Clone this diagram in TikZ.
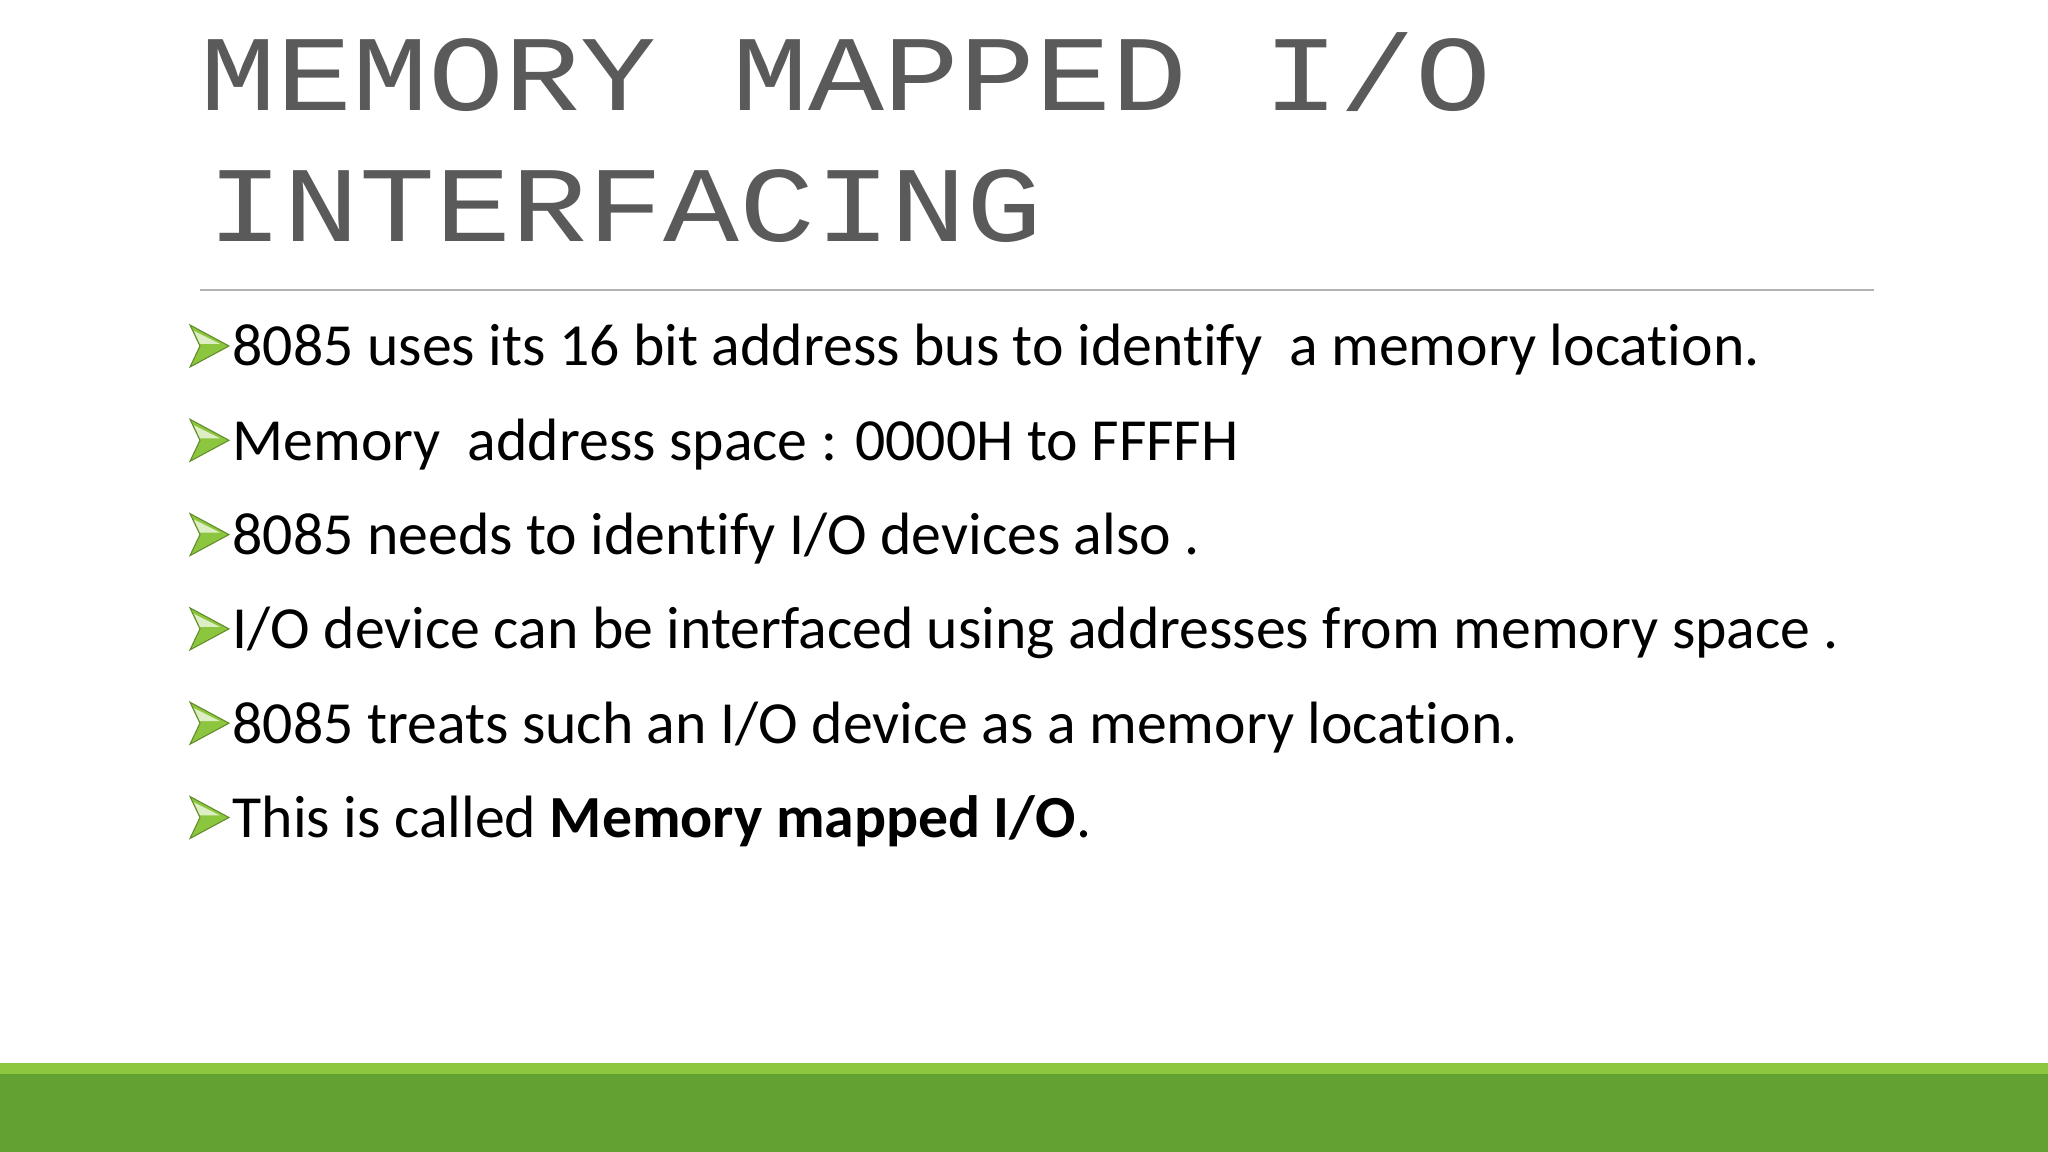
\documentclass[tikz,border=0pt]{standalone}
\usepackage{fontspec}
\setmainfont{Carlito}[Ligatures=NoCommon]
\newfontfamily\titlefont{Liberation Mono}
\definecolor{titlegray}{HTML}{5A5A5A}
\definecolor{lightgreen}{HTML}{8DC63F}
\definecolor{darkgreen}{HTML}{62A232}
\definecolor{bulletgreen}{HTML}{8CC63E}
\tikzset{
  titletxt/.style={anchor=base west,inner sep=0pt,yscale=0.85,transform shape,font=\titlefont\fontsize{36}{36}\selectfont,text=titlegray},
  bodytxt/.style={anchor=base west,inner sep=0pt,font=\fontsize{17}{19}\selectfont,text=black},
  pic arrow/.pic={\fill[bulletgreen,draw=bulletgreen!70!black,line width=0.3pt]
     (0,0.21)--(0.39,0)--(0,-0.21)--(0.1,0)--cycle;
     \fill[white!70!bulletgreen] (0.04,0.15)--(0.3,0.02)--(0.1,0.02)--cycle;}
}
\begin{document}
\begin{tikzpicture}
\useasboundingbox (0,0) rectangle (20.48,-11.52);
\fill[white] (0,0) rectangle (20.48,-11.52);
\node[titletxt] (t1) at (2.0,-1.11) {MEMORY MAPPED I/O};
\node[titletxt] (t2) at (2.07,-2.42) {INTERFACING};
\draw[gray!60,line width=0.8pt] (2.0,-2.9) coordinate (ra) -- (18.74,-2.9) coordinate (rb);
\foreach \i/\t in {0/{8085 uses its 16 bit address bus to identify\ \ a memory location.},
                   1/{Memory\ \ address space : 0000H to FFFFH},
                   2/{8085 needs to identify I/O devices also .},
                   3/{I/O device can be interfaced using addresses from memory space .},
                   4/{8085 treats such an I/O device as a memory location.},
                   5/{This is called \textbf{Memory mapped I/O}.}}{
  \pgfmathsetmacro{\yy}{-3.66-0.943*\i}
  \pic at (1.9,\yy+0.2) {pic arrow};
  \node[bodytxt] (b\i) at (2.32,\yy) {\t};
}
\fill[lightgreen] (0,-10.63) rectangle (20.48,-10.74);
\fill[darkgreen] (0,-10.74) rectangle (20.48,-11.52);
\end{tikzpicture}
\end{document}
